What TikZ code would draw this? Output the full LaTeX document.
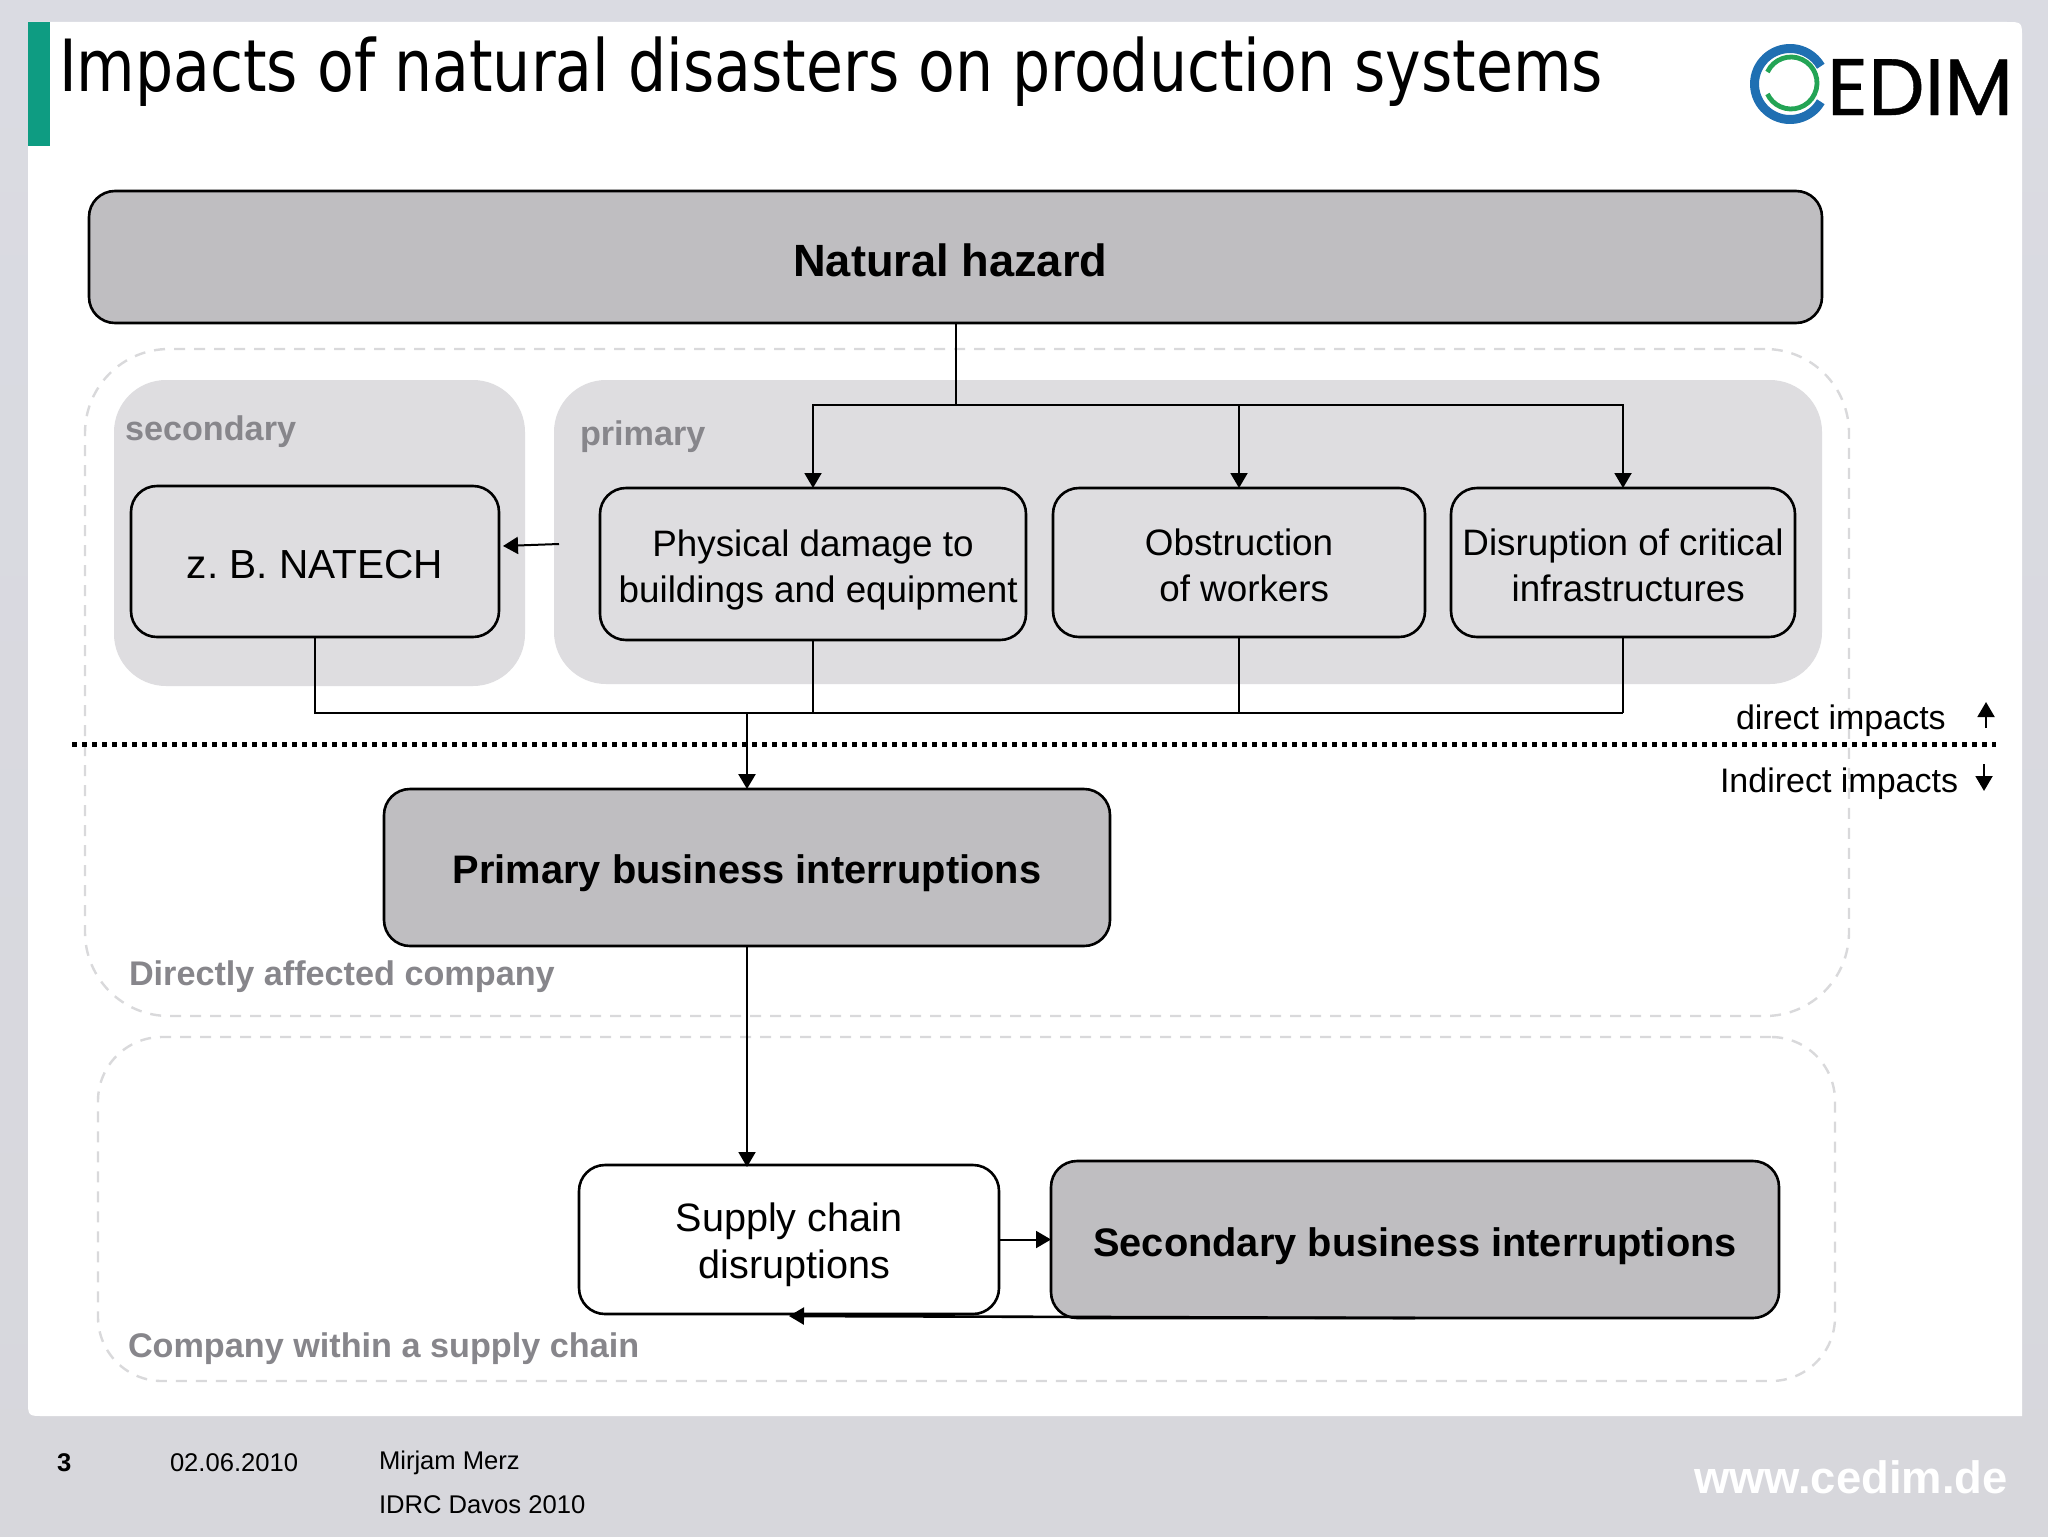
\documentclass[tikz,border=0pt]{standalone}
\usepackage{fontspec}
\setmainfont{Liberation Sans}
\newfontfamily\titlefont[FakeStretch=0.835]{DejaVu Sans}
\newfontfamily\logofont[FakeBold=0.5]{Poppins}
\usetikzlibrary{arrows.meta,positioning}

\definecolor{pageG}{HTML}{D7D7DC}
\definecolor{pageT}{HTML}{DADBE2}
\definecolor{panelG}{HTML}{DEDDE0}
\definecolor{boxG}{HTML}{BFBEC1}
\definecolor{labelG}{HTML}{87868B}
\definecolor{dashG}{HTML}{D9D9DB}
\definecolor{barG}{HTML}{0E9C82}
\definecolor{logoB}{HTML}{1F6FB2}
\definecolor{logoG}{HTML}{23A455}

% box text, moved down by #1
\newcommand{\lowtext}[2]{\raisebox{-#1}[\height][\depth]{\begin{tabular}{@{}c@{}}#2\end{tabular}}}

\begin{document}
\frenchspacing
\begin{tikzpicture}[x=0.5pt,y=-0.5pt,>={Triangle[length=7.5pt,width=8.5pt]},line width=1pt,
    every node/.style={inner sep=0pt,outer sep=0pt}]
  \tikzstyle{nodeBox}=[rectangle,rounded corners=13pt,line width=1.3pt,draw=black,align=center]
  \tikzstyle{nodeD}=[nodeBox,fill=boxG,font=\fontsize{19.9}{24}\selectfont\bfseries]
  \tikzstyle{nodeL}=[nodeBox,fill=panelG,font=\fontsize{18.4}{22.9}\selectfont]
  \tikzstyle{nodeW}=[nodeBox,fill=white,font=\fontsize{19.8}{23.5}\selectfont]
  \tikzstyle{panel}=[rectangle,rounded corners=26pt,fill=panelG]
  \tikzstyle{region}=[rectangle,draw=dashG,line width=1.2pt,dash pattern=on 5.5pt off 4.5pt]
  \tikzstyle{grayText}=[anchor=base west,text=labelG,font=\fontsize{17.1}{20}\selectfont\bfseries]
  \tikzstyle{sideText}=[anchor=base west,font=\fontsize{17}{20}\selectfont]
  \tikzstyle{footText}=[anchor=base west,font=\fontsize{12.8}{15}\selectfont]
  \useasboundingbox (0,0) rectangle (2048,1536);

  % Page
  \shade[top color=pageT,bottom color=pageG] (0,0) rectangle (2048,1536);
  \fill[white] (28,22) -- (2006,22) .. controls (2022,22) .. (2022,38) -- (2022,1416)
    -- (44,1416) .. controls (28,1416) .. (28,1400) -- cycle;
  \fill[barG] (28,22) rectangle (50,146);
  \node[anchor=base west,font=\fontsize{36}{40}\titlefont] (title) at (59,91) {Impacts of natural disasters on production systems};

  % Logo
  \draw[logoB,line width=4.5pt] ([shift=(30:35.5)]1790,84) arc[start angle=30,end angle=330,radius=35.5];
  \draw[logoG,line width=2.4pt] ([shift=(-155:26)]1791,83) arc[start angle=-155,end angle=155,radius=26];
  \node[anchor=base west,font=\fontsize{40}{44}\logofont] (logo) at (1827,115) {EDIM};

  % Regions and panels
  \node[region,rounded corners=42pt,minimum width=882pt,minimum height=333.5pt] (regionA) at (967,682.5) {};
  \node[region,rounded corners=32pt,minimum width=868.5pt,minimum height=172pt] (regionB) at (966.5,1209) {};
  \node[panel,minimum width=205.5pt,minimum height=153pt] (panelS) at (319.5,533) {};
  \node[panel,minimum width=634pt,minimum height=152pt] (panelP) at (1188,532) {};
  \node[grayText] (labelS) at (125,440) {secondary};
  \node[grayText] (labelP) at (580,445) {primary};
  \node[grayText] (labelA) at (129,985) {Directly affected company};
  \node[grayText] (labelB) at (128,1357) {Company within a supply chain};

  % Boxes
  \node[nodeD,minimum width=866.5pt,minimum height=66pt,font=\fontsize{22.6}{26}\selectfont\bfseries] (hazard) at (955.5,257) {\lowtext{4.6pt}{Natural hazard\hspace*{5.2pt}}};
  \node[nodeL,minimum width=184pt,minimum height=75.5pt,font=\fontsize{20.3}{24}\selectfont] (natech) at (315,561.5) {\lowtext{3.9pt}{z. B. NATECH}};
  \node[nodeL,minimum width=213pt,minimum height=76pt] (physical) at (813,564) {\lowtext{3.15pt}{Physical damage to\\\hspace*{5.2pt}buildings and equipment}};
  \node[nodeL,minimum width=186pt,minimum height=74.5pt] (obstr) [right=13.5pt of physical,yshift=0.75pt] {\lowtext{3.6pt}{Obstruction\\\hspace*{5.2pt}of workers}};
  \node[nodeL,minimum width=172pt,minimum height=74.5pt] (disrupt) [right=13pt of obstr] {\lowtext{3.6pt}{Disruption of critical\\\hspace*{5.2pt}infrastructures}};
  \node[nodeD,minimum width=363pt,minimum height=78.5pt] (primbi) at (747,867.5) {\lowtext{3.25pt}{Primary business interruptions}};
  \node[nodeW,minimum width=210pt,minimum height=74.5pt] (supply) at (789,1239.5) {\lowtext{3.25pt}{Supply chain\\\hspace*{5.5pt}disruptions}};
  \node[nodeD,minimum width=364pt,minimum height=78.5pt] (secbi) [right=26pt of supply] {\lowtext{3.9pt}{Secondary business interruptions}};

  % Impact line
  \coordinate (lineL) at (72,744);
  \coordinate (lineR) at (1996,744);
  \draw[line width=2.5pt,dash pattern=on 2.5pt off 2.5pt] (lineL) -- (lineR);
  \node[sideText] (direct) at (1736,729) {direct impacts};
  \node[sideText] (indirect) at (1720,792) {Indirect impacts};
  \coordinate (upA) at (1986,728);
  \coordinate (upB) at (1986,702);
  \coordinate (downA) at (1984,764);
  \coordinate (downB) at (1984,791);
  \draw[->] (upA) -- (upB);
  \draw[->] (downA) -- (downB);

  % Connectors
  \coordinate (busT) at (955.5,405);
  \coordinate (busB) at (1623,713);
  \coordinate (gapA) at (559,544);
  \coordinate (gapB) at (503,546);
  \draw (hazard.south) -- (busT);
  \draw[->] (busT) -| (physical.north);
  \draw[->] (busT) -| (obstr.north);
  \draw[->] (busT) -| (disrupt.north);
  \draw[->] (gapA) -- (gapB);
  \draw (natech.south) |- (busB);
  \draw (obstr.south) -- (obstr.south |- busB);
  \draw (disrupt.south) -- (busB);
  \draw[->,line width=1.3pt] (physical.south) -- (physical.south |- busB) -- (primbi.north |- busB) -- (primbi.north);
  \draw[->,shorten >=-1pt] (primbi.south) -- (primbi.south |- supply.north);
  \draw[->] (supply.east) -- (secbi.west);
  \draw[->,line width=1.3pt] (secbi.south) -- ([yshift=-1pt]supply.south);

  % Footer
  \node[footText,font=\fontsize{12.8}{15}\selectfont\bfseries] (pageno) at (57,1471) {3};
  \node[footText] (date) at (170,1471) {02.06.2010};
  \node[footText] (author) at (379,1469) {Mirjam Merz};
  \node[footText] (event) at (379,1513) {IDRC Davos 2010};
  \node[anchor=base west,text=white,font=\fontsize{22.7}{26}\selectfont\bfseries] (web) at (1694,1493) {www.cedim.de};
\end{tikzpicture}
\end{document}
